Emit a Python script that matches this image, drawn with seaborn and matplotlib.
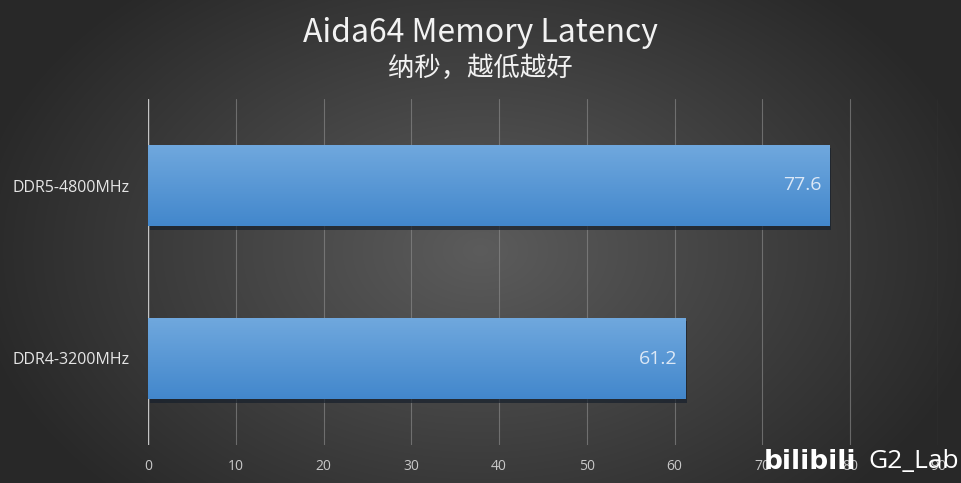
import matplotlib
matplotlib.use('Agg')
import matplotlib.pyplot as plt
import numpy as np
import pandas as pd
import seaborn as sns

categories = ['DDR5-4800MHz', 'DDR4-3200MHz']
latency_ns = [77.6, 61.2]
x_ticks = [0, 10, 20, 30, 40, 50, 60, 70, 80, 90]

sns.set_style('dark')
plt.rcParams['font.family'] = ['Noto Sans CJK SC', 'DejaVu Sans']
plt.rcParams['patch.edgecolor'] = 'none'

fig = plt.figure(figsize=(9.61, 4.83), dpi=100)

# radial background
bg = fig.add_axes([0, 0, 1, 1], zorder=-10)
yy, xx = np.mgrid[0:483, 0:961]
r = np.sqrt(((xx - 480) / 560.0) ** 2 + ((yy - 250) / 380.0) ** 2)
shade = np.clip(0.36 - 0.22 * r, 0.16, 0.36)
bg.imshow(np.dstack([shade, shade, shade]), aspect='auto', extent=[0, 1, 0, 1])
bg.axis('off')

ax = fig.add_axes([148 / 961, 1 - 445 / 483, 790 / 961, 346 / 483])
ax.patch.set_alpha(0)

df = pd.DataFrame({'name': categories, 'ns': latency_ns})
sns.barplot(data=df, x='ns', y='name', orient='h', width=0.47,
            color='#5a9bdc', linewidth=0, ax=ax, zorder=3)

ax.set_xlim(0, 90)
ax.set_ylim(1.5, -0.5)

# gradient + shadow on bars
grad = np.linspace(0, 1, 100).reshape(-1, 1)
top = np.array([0.44, 0.66, 0.87])
bot = np.array([0.26, 0.53, 0.80])
cols = top + (bot - top) * grad
for p in ax.patches[:]:
    x0, y0 = p.get_x(), p.get_y()
    w, h = p.get_width(), p.get_height()
    sh = plt.Rectangle((x0 + 0.2, y0 + 0.02), w, h, color='#17202c',
                       alpha=0.7, lw=0, zorder=2)
    ax.add_patch(sh)
    im = ax.imshow(cols[:, None, :], extent=[x0, x0 + w, y0 + h, y0],
                   aspect='auto', zorder=4)
    im.set_clip_path(p)

for i, v in enumerate(latency_ns):
    ax.text(v - 0.9, i, f'{v}', ha='right', va='center', color='#dce8f6',
            fontsize=14, family=['Open Sans', 'DejaVu Sans'], zorder=5)

ax.set_xticks(x_ticks)
ax.set_xticklabels([str(t) for t in x_ticks], color='#c8c8c8', fontsize=10,
                   family=['Open Sans', 'DejaVu Sans'])
ax.set_yticks(range(len(categories)))
ax.set_yticklabels(categories, color='#e6e6e6', fontsize=11.5,
                   family=['Open Sans', 'DejaVu Sans'])
ax.tick_params(axis='x', length=0, pad=10)
ax.tick_params(axis='y', length=0, pad=13)
ax.grid(axis='x', color='#909090', lw=0.8, alpha=0.6, zorder=1)
ax.grid(axis='y', visible=False)
ax.axvline(0, color='#c4c4c4', lw=1.0, zorder=1)
for s in ax.spines.values():
    s.set_visible(False)
ax.set_xlabel('')
ax.set_ylabel('')

fig.text(0.5, 1 - 33 / 483, 'Aida64 Memory Latency', ha='center', va='center',
         color='#f2f2f2', fontsize=23, fontweight='light')
fig.text(0.5, 1 - 68 / 483, '纳秒，越低越好', ha='center', va='center',
         color='#f2f2f2', fontsize=19, fontweight='light')

fig.text(856 / 961, 1 - 462 / 483, 'bilibili', ha='right', va='center',
         color='white', fontsize=19, fontweight='heavy',
         family=['DejaVu Sans'])
fig.text(0.998, 1 - 462 / 483, 'G2_Lab', ha='right', va='center',
         color='white', fontsize=19, family=['Open Sans', 'DejaVu Sans'])

fig.savefig('out.png', dpi=100)
